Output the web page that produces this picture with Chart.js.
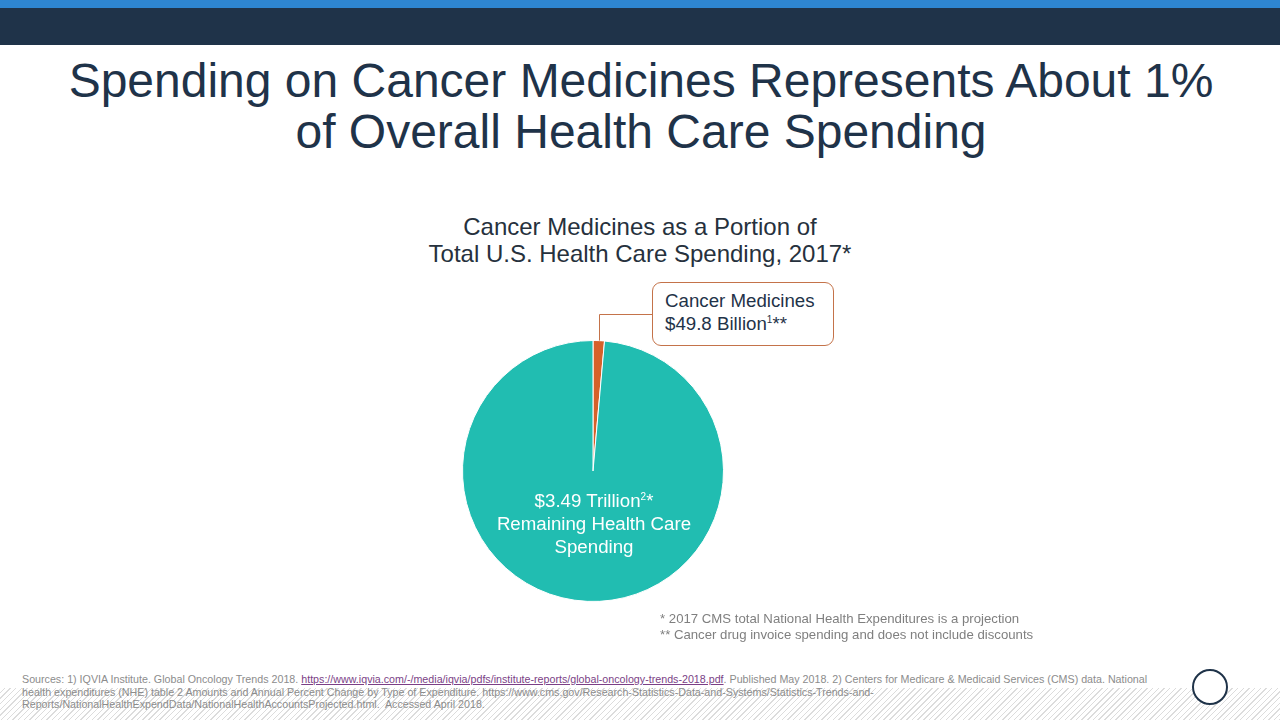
<!DOCTYPE html>
<html>
<head>
<meta charset="utf-8">
<script src="https://cdn.jsdelivr.net/npm/chart.js@4.4.1/dist/chart.umd.min.js"></script>
<style>
  body { margin: 0; width: 1280px; height: 720px; position: relative; overflow: hidden; background: #fff; font-family: "Liberation Sans", Arial, sans-serif; }
  .faixa-azul { position: absolute; left: 0; top: 0; width: 1280px; height: 8px; background: #2e86d1; }
  .faixa-escura { position: absolute; left: 0; top: 8px; width: 1280px; height: 37px; background: #1f3349; }
  .hachura { position: absolute; left: 0; top: 688px; width: 1280px; height: 32px;
    background: repeating-linear-gradient(135deg, #fff 0px, #fff 3px, #dcdcdc 3px, #dcdcdc 4px); }
  .titulo { position: absolute; left: 0; top: 55px; width: 1282px; text-align: center; color: #1f3349; font-size: 48px; line-height: 51px; }
  .subtitulo { position: absolute; left: 0; top: 213px; width: 1280px; text-align: center; color: #26313d; font-size: 24px; line-height: 27px; }
  #grafico-wrap { position: absolute; left: 380px; top: 270px; width: 500px; height: 350px; }
  .caixa { position: absolute; left: 652px; top: 282px; width: 180px; height: 62px; border: 1px solid #c4734a; border-radius: 9px; background: #fff; box-sizing: content-box; }
  .caixa-texto { position: absolute; left: 665px; top: 289px; color: #1f3349; font-size: 18.7px; line-height: 23px; }
  .rotulo-pizza { position: absolute; left: 474px; top: 489px; width: 240px; text-align: center; color: #fff; font-size: 18.7px; line-height: 23px; }
  sup { font-size: 10px; line-height: 0; vertical-align: 7px; }
  .notas { position: absolute; left: 660px; top: 611px; color: #7f7f7f; font-size: 13.2px; line-height: 16px; }
  .fontes { position: absolute; left: 22px; top: 673px; color: #8c8c8c; font-size: 10.7px; line-height: 12.5px; white-space: nowrap; }
  .fontes a { color: #7b3f86; text-decoration: underline; }
  .circulo { position: absolute; left: 1192px; top: 669px; width: 32px; height: 32px; border: 2px solid #1f3349; border-radius: 50%; background: #fff; }
</style>
</head>
<body>
<div class="faixa-azul"></div>
<div class="faixa-escura"></div>
<div class="hachura"></div>

<div class="titulo">Spending on Cancer Medicines Represents About 1%<br>of Overall Health Care Spending</div>
<div class="subtitulo">Cancer Medicines as a Portion of<br>Total U.S. Health Care Spending, 2017*</div>

<div id="grafico-wrap"><canvas id="grafico-gastos"></canvas></div>

<div class="caixa"></div>
<div class="caixa-texto">Cancer Medicines<br>$49.8 Billion<sup>1</sup>**</div>
<div class="rotulo-pizza">$3.49 Trillion<sup>2</sup>*<br>Remaining Health Care<br>Spending</div>

<div class="notas">* 2017 CMS total National Health Expenditures is a projection<br>** Cancer drug invoice spending and does not include discounts</div>

<div class="fontes">Sources: 1) IQVIA Institute. Global Oncology Trends 2018. <a>https://www.iqvia.com/-/media/iqvia/pdfs/institute-reports/global-oncology-trends-2018.pdf</a>. Published May 2018. 2) Centers for Medicare &amp; Medicaid Services (CMS) data. National<br>health expenditures (NHE) table 2 Amounts and Annual Percent Change by Type of Expenditure. https://www.cms.gov/Research-Statistics-Data-and-Systems/Statistics-Trends-and-<br>Reports/NationalHealthExpendData/NationalHealthAccountsProjected.html.&nbsp; Accessed April 2018.</div>

<div class="circulo"></div>

<script>
// valores em bilhoes de dolares
const categorias = ['Cancer Medicines', 'Remaining Health Care Spending'];
const valores = [49.8, 3490];
const cores = ['#d5612a', '#21bdb1'];

// linha de chamada da fatia de medicamentos ate a caixa
const linhaChamada = {
  id: 'linhaChamada',
  afterDatasetsDraw(chart) {
    const arco = chart.getDatasetMeta(0).data[0];
    const meio = (arco.startAngle + arco.endAngle) / 2;
    const x = arco.x + Math.cos(meio) * arco.outerRadius;
    const y = arco.y + Math.sin(meio) * arco.outerRadius;
    const ctx = chart.ctx;
    // caixa fica em (652, 314) na pagina; canvas comeca em (380, 270)
    const caixaX = 652 - 380;
    const caixaY = 314 - 270;
    ctx.save();
    ctx.strokeStyle = '#c4734a';
    ctx.lineWidth = 1;
    ctx.beginPath();
    ctx.moveTo(Math.round(x) + 0.5, y);
    ctx.lineTo(Math.round(x) + 0.5, caixaY + 0.5);
    ctx.lineTo(caixaX, caixaY + 0.5);
    ctx.stroke();
    ctx.restore();
  }
};

function criarGraficoGastos() {
  const ctx = document.getElementById('grafico-gastos').getContext('2d');
  new Chart(ctx, {
    type: 'pie',
    data: {
      labels: categorias,
      datasets: [{
        data: valores,
        backgroundColor: cores,
        borderColor: '#ffffff',
        borderWidth: 1,
        hoverOffset: 0
      }]
    },
    options: {
      responsive: true,
      maintainAspectRatio: false,
      animation: false,
      layout: { padding: { left: 82, right: 156, top: 70, bottom: 18 } },
      plugins: {
        legend: { display: false },
        tooltip: { enabled: false }
      }
    },
    plugins: [linhaChamada]
  });
}

window.addEventListener('load', () => {
  criarGraficoGastos();
});
</script>
</body>
</html>
